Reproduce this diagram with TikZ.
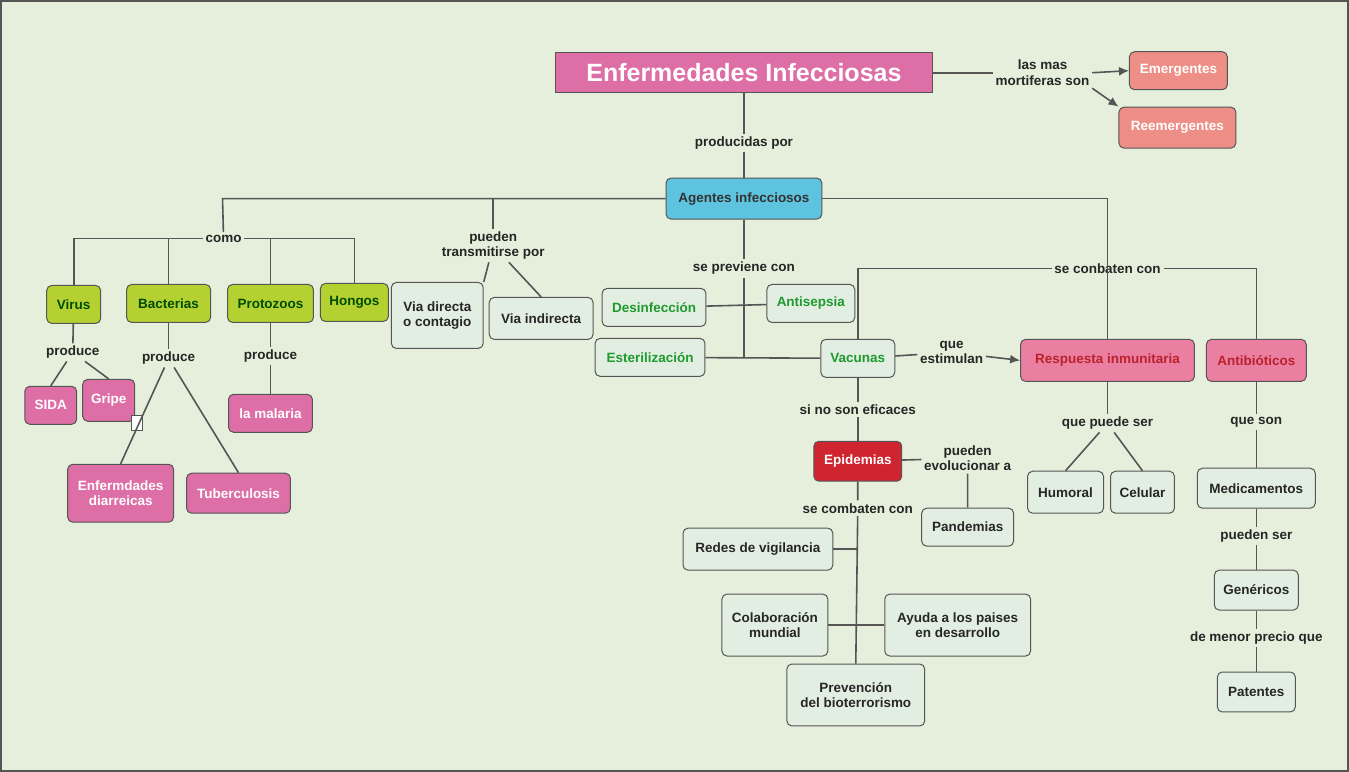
\documentclass[tikz,border=0pt]{standalone}
\usepackage{fontspec}
\setmainfont{Liberation Sans}
\usetikzlibrary{arrows.meta}
\definecolor{bg}{HTML}{E6EFDB}
\definecolor{pale}{HTML}{E3EEE2}
\definecolor{lime}{HTML}{B5D131}
\definecolor{pinkA}{HTML}{DD6FA6}
\definecolor{salmon}{HTML}{EE8F87}
\definecolor{cyanA}{HTML}{5EC3DE}
\definecolor{rosa}{HTML}{EA7FA2}
\definecolor{redA}{HTML}{CF2530}
\definecolor{gtxt}{HTML}{1E9A2E}
\definecolor{ln}{HTML}{555555}
\begin{document}
\begin{tikzpicture}[x=1pt,y=-1pt,
 box/.style={draw=ln,line width=1pt,rounded corners=5pt,fill=pale,font=\bfseries\fontsize{13.5}{15.5}\selectfont,text=black!85,align=center,inner sep=5pt,minimum height=38pt},
 lime/.style={box,fill=lime,text=green!30!black},
 pk/.style={box,fill=pinkA,text=white},
 gr/.style={box,text=gtxt},
 lbl/.style={font=\bfseries\fontsize{13.5}{15.5}\selectfont,text=black!85,align=center,fill=bg,inner sep=2pt},
 every path/.style={draw=ln,line width=1.6pt}]
\fill[bg,draw=none] (0,0) rectangle (1349,771);
\useasboundingbox (0,0) rectangle (1349,771);
% nodes
\node[box,fill=pinkA,text=white,rounded corners=0pt,font=\bfseries\fontsize{25}{28}\selectfont,minimum width=378pt,minimum height=40pt,inner sep=2pt] (t) at (744,72) {Enfermedades Infecciosas};
\node[lbl] (mm) at (1043,72) {las mas\\mortiferas son};
\node[box,fill=salmon,text=white,minimum width=98pt] (em) at (1179,70) {Emergentes};
\node[box,fill=salmon,text=white,minimum width=117pt,minimum height=41pt] (re) at (1178,127) {Reemergentes};
\node[lbl] (pp) at (744,142) {producidas por};
\node[box,fill=cyanA,text=black!80,minimum width=156pt,minimum height=41pt] (ag) at (744,198) {Agentes infecciosos};
\node[lbl] (como) at (223,238) {como};
\node[lime,minimum width=54pt] (vir) at (73,304) {Virus};
\node[lime,minimum width=84pt] (bac) at (168,303) {Bacterias};
\node[lime,minimum width=86pt] (pro) at (270,303) {Protozoos};
\node[lime,minimum width=68pt] (hon) at (354,302) {Hongos};
\node[lbl] (pt) at (493,245) {pueden\\transmitirse por};
\node[box,minimum width=92pt,minimum height=66pt] (vd) at (437,315) {Via directa\\o contagio};
\node[box,minimum width=104pt,minimum height=42pt] (vi) at (541,318) {Via indirecta};
\node[lbl] (spc) at (744,268) {se previene con};
\node[gr,minimum width=104pt] (des) at (654,307) {Desinfección};
\node[gr,minimum width=88pt] (ant) at (811,303) {Antisepsia};
\node[gr,minimum width=110pt] (est) at (650,357) {Esterilización};
\node[gr,minimum width=74pt] (vac) at (858,358) {Vacunas};
\node[lbl] (qe) at (952,352) {que\\estimulan};
\node[box,fill=rosa,text=redA!90!black,minimum width=174pt,minimum height=42pt] (ri) at (1108,360) {Respuesta inmunitaria};
\node[box,fill=rosa,text=redA!90!black,minimum width=100pt,minimum height=42pt] (ab) at (1257,360) {Antibióticos};
\node[lbl] (scc) at (1108,268) {se conbaten con};
\node[lbl] (p1) at (72,352) {produce};
\node[lbl] (p2) at (168,358) {produce};
\node[lbl] (p3) at (270,356) {produce};
\node[pk,minimum width=52pt] (sida) at (50,405) {SIDA};
\node[pk,minimum width=52pt,minimum height=42pt] (gri) at (108,400) {Gripe};
\draw[line width=0.8pt,fill=white] (131,415) rectangle (142,430);
\node[pk,minimum width=106pt,minimum height=58pt] (dia) at (120,493) {Enfermdades\\diarreicas};
\node[pk,minimum width=104pt,minimum height=40pt] (tub) at (238,493) {Tuberculosis};
\node[pk,minimum width=84pt] (mal) at (270,413) {la malaria};
\node[lbl] (sne) at (858,409) {si no son eficaces};
\node[box,fill=redA,text=white,minimum width=88pt,minimum height=40pt] (epi) at (858,461) {Epidemias};
\node[lbl] (pev) at (968,458) {pueden\\evolucionar a};
\node[box,minimum width=92pt] (pan) at (968,527) {Pandemias};
\node[lbl] (scb) at (858,508) {se combaten con};
\node[box,minimum width=150pt,minimum height=42pt] (red) at (758,549) {Redes de vigilancia};
\node[box,minimum width=106pt,minimum height=62pt] (col) at (775,625) {Colaboración\\mundial};
\node[box,minimum width=146pt,minimum height=62pt] (ayu) at (958,625) {Ayuda a los paises\\en desarrollo};
\node[box,minimum width=138pt,minimum height=62pt] (prev) at (856,695) {Prevención\\del bioterrorismo};
\node[lbl] (qps) at (1108,423) {que puede ser};
\node[box,minimum width=76pt,minimum height=42pt] (hum) at (1066,492) {Humoral};
\node[box,minimum width=64pt,minimum height=42pt] (cel) at (1143,492) {Celular};
\node[lbl] (qs) at (1257,422) {que son};
\node[box,minimum width=118pt,minimum height=40pt] (med) at (1257,488) {Medicamentos};
\node[lbl] (ps) at (1257,536) {pueden ser};
\node[box,minimum width=84pt,minimum height=40pt] (gen) at (1257,590) {Genéricos};
\node[lbl] (mp) at (1257,638) {de menor precio que};
\node[box,minimum width=78pt,minimum height=40pt] (pat) at (1257,692) {Patentes};
% connectors
\draw (t.east) -- (mm.west);
\draw[-{Latex[length=10pt,width=9pt]}] (mm.east) -- (em.west);
\draw[-{Latex[length=10pt,width=9pt]}] (mm.south east) -- (re.north west);
\draw (t) -- (pp) -- (ag);
\draw (ag.west) -- (222,198) -- (como);
\draw (493,198) -- (pt);
\draw (como.west) -- (73,238) -- (vir.north);
\draw (como.east) -- (354,238) -- (hon.north);
\draw (168,238) -- (bac.north);
\draw (270,238) -- (pro.north);
\draw (pt) -- (vd.north east);
\draw (pt) -- (vi.north);
\draw (ag) -- (spc) -- (744,357);
\draw (des) -- (ant);
\draw (est) -- (vac);
\draw (ag.east) -- (1108,198) -- (ri.north);
\draw (858,268) -- (scc.west);
\draw (858,268) -- (vac.north);
\draw (scc.east) -- (1257,268) -- (ab.north);
\draw (vac) -- (qe);
\draw[-{Latex[length=10pt,width=9pt]}] (qe) -- (ri.west);
\draw (vir) -- (p1);
\draw (p1) -- (sida.north);
\draw (p1) -- (gri.north);
\draw (bac) -- (p2);
\draw (p2) -- (dia.north);
\draw (p2) -- (tub.north);
\draw (pro) -- (p3) -- (mal);
\draw (vac) -- (sne) -- (epi);
\draw (epi) -- (pev) -- (pan);
\draw (epi) -- (scb) -- (prev.north);
\draw (red.east) -- (858,549);
\draw (col.east) -- (ayu.west);
\draw (ri) -- (qps);
\draw (qps) -- (hum.north);
\draw (qps) -- (cel.north);
\draw (ab) -- (qs) -- (med) -- (ps) -- (gen) -- (mp) -- (pat);
\end{tikzpicture}
\end{document}
